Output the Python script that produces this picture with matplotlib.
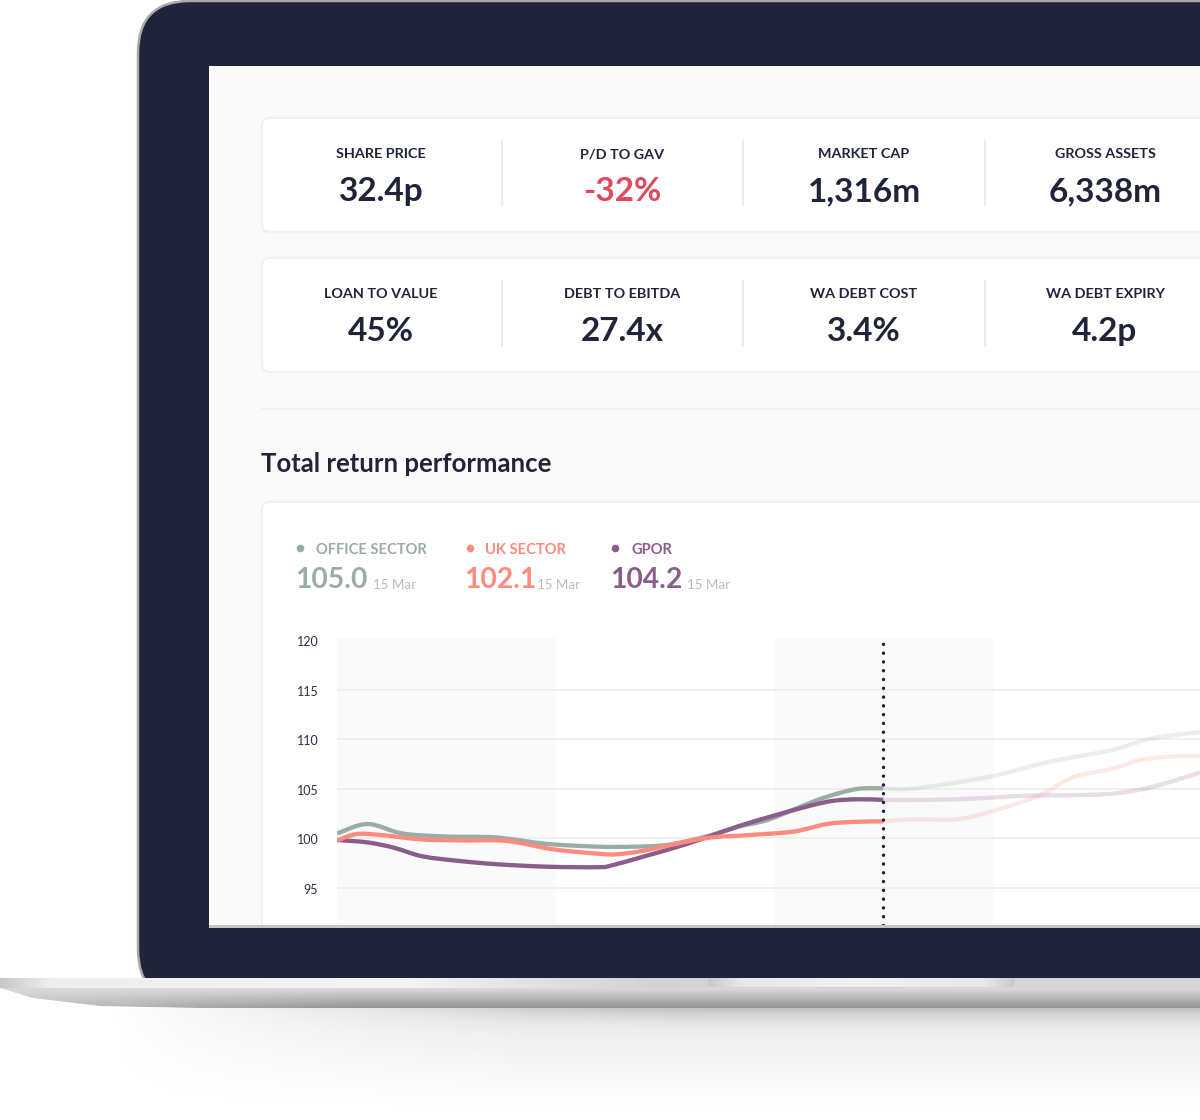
import numpy as np
import matplotlib
matplotlib.use("Agg")
import matplotlib.pyplot as plt
from matplotlib.patches import FancyBboxPatch, PathPatch, Polygon, Rectangle
from matplotlib.path import Path
from matplotlib.transforms import ScaledTranslation

plt.rcParams["font.family"] = ["Lato", "DejaVu Sans"]

# kpi cards
row1_labels = ["SHARE PRICE", "P/D TO GAV", "MARKET CAP", "GROSS ASSETS"]
row1_values = ["32.4p", "-32%", "1,316m", "6,338m"]
row2_labels = ["LOAN TO VALUE", "DEBT TO EBITDA", "WA DEBT COST", "WA DEBT EXPIRY"]
row2_values = ["45%", "27.4x", "3.4%", "4.2p"]

# legend
legend_names = ["OFFICE SECTOR", "UK SECTOR", "GPOR"]
legend_values = ["105.0", "102.1", "104.2"]
legend_date = "15 Mar"

# series, x is in band widths from the start of the chart
office_x = [0, .14, .30, .50, .73, .96, 1.20, 1.35, 1.51, 1.69, 1.84, 1.97, 2.12, 2.24, 2.38, 2.50]
office_y = [100.5, 101.46, 100.5, 100.2, 100.1, 99.45, 99.17, 99.17, 99.35, 100.2, 101.2, 101.87, 103.2, 104.2, 105.0, 105.07]
office_fx = [2.50, 2.61, 2.79, 3.02, 3.25, 3.54, 3.73, 3.95]
office_fy = [105.07, 105.0, 105.5, 106.4, 107.7, 108.9, 110.1, 110.75]

uk_x = [0, .09, .20, .39, .58, .78, .99, 1.20, 1.28, 1.40, 1.56, 1.71, 1.89, 2.09, 2.24, 2.36, 2.50]
uk_y = [99.8, 100.45, 100.35, 99.9, 99.8, 99.75, 98.9, 98.45, 98.4, 98.75, 99.5, 100.1, 100.35, 100.7, 101.45, 101.67, 101.73]
uk_fx = [2.50, 2.64, 2.84, 3.02, 3.22, 3.37, 3.54, 3.67, 3.80, 3.95]
uk_fy = [101.73, 101.94, 101.94, 102.9, 104.4, 106.2, 107.0, 107.9, 108.26, 108.36]

gpor_x = [0, .14, .26, .39, .55, .73, .96, 1.20, 1.26, 1.40, 1.56, 1.69, 1.84, 2.01, 2.16, 2.27, 2.38, 2.50]
gpor_y = [99.85, 99.6, 99.07, 98.2, 97.75, 97.4, 97.15, 97.1, 97.3, 98.15, 99.17, 100.1, 101.26, 102.37, 103.28, 103.8, 103.96, 103.9]
gpor_fx = [2.50, 2.71, 2.94, 3.13, 3.43, 3.58, 3.73, 3.95]
gpor_fy = [103.9, 103.9, 104.06, 104.3, 104.4, 104.6, 105.2, 106.65]

y_ticks = [95, 100, 105, 110, 115, 120]

NAVY = "#1f2438"
GREY = "#9aaca8"
CORAL = "#ff8a7e"
PURPLE = "#8a5d8b"

W, H = 1200, 1120
fig = plt.figure(figsize=(W / 100, H / 100), dpi=100, facecolor="white")
ax = fig.add_axes([0, 0, 1, 1])
ax.axis("off")


def gradient(arr, x0, x1, y0, y1, clip=None, z=1):
    im = ax.imshow(arr, extent=[x0, x1, y1, y0], cmap="gray", vmin=0, vmax=255,
                   aspect="auto", zorder=z, interpolation="bilinear")
    if clip is not None:
        im.set_clip_path(clip)
    return im


def curve(x, y):
    # bezier segments through the read points
    x, y = np.asarray(x, float), np.asarray(y, float)
    pts = np.column_stack([x, y])
    verts = [pts[0]]
    codes = [Path.MOVETO]
    for i in range(len(pts) - 1):
        before = pts[max(i - 1, 0)]
        after = pts[min(i + 2, len(pts) - 1)]
        verts += [pts[i] + (pts[i + 1] - before) / 6, pts[i + 1] - (after - pts[i]) / 6, pts[i + 1]]
        codes += [Path.CURVE4] * 3
    return Path(verts, codes)


# soft shadow under the laptop
xx, yy = np.meshgrid(np.arange(0, 1200, 4), np.arange(1008, 1120, 2))
fx = np.clip((xx - 110) / 420, 0, 1) ** 0.7
fy = 1 - (yy - 1008) / 112
shade = 255 - fx * (24 * fy ** 1.4 + 36 * np.clip(1 - (yy - 1008) / 26, 0, 1) ** 2 * np.clip((xx - 200) / 500, 0, 1))
gradient(shade, 0, 1200, 1008, 1120)

# lid and screen
ax.add_patch(FancyBboxPatch((138, 1), 1200, 1000, boxstyle="round,pad=0,rounding_size=52",
                            fc=NAVY, ec="#a9a9a9", lw=1.8, zorder=2))
ax.add_patch(Rectangle((209, 66), 1100, 859, fc="#fafafa", ec="none", zorder=3))

# base of the laptop
ax.add_patch(Rectangle((0, 978), 1200, 30, fc="white", ec="none", zorder=3.1))
base = Polygon([(0, 988), (33, 998), (100, 1006), (200, 1008), (1300, 1008), (1300, 988)],
               closed=True, fc="none", ec="none")
ax.add_patch(base)
xx, yy = np.meshgrid(np.arange(0, 1200, 4), np.arange(988, 1009))
f = np.clip(xx / 350, 0, 1)
gradient(218 - (yy - 988) / 20 * (22 + 48 * f), 0, 1200, 988, 1008, clip=base, z=3.2)
top_strip = np.interp(np.arange(0, 1200, 4), [0, 50, 400, 650, 1200], [200, 238, 243, 210, 214])
gradient(top_strip[None, :], 0, 1200, 978, 988, z=3.2)

notch = FancyBboxPatch((708, 968), 307, 19, boxstyle="round,pad=0,rounding_size=6", fc="none", ec="none")
ax.add_patch(notch)
notch_row = np.interp(np.arange(708, 1015), [708, 740, 860, 985, 1015], [200, 232, 240, 232, 200])
gradient(notch_row[None, :], 708, 1015, 978, 987, clip=notch, z=3.3)

# kpi rows
centres = [381, 622, 864, 1105]
dividers = [501.5, 743, 984.5]
for top, labels, values in [(118, row1_labels, row1_values), (258, row2_labels, row2_values)]:
    ax.add_patch(FancyBboxPatch((262, top), 1100, 114, boxstyle="round,pad=0,rounding_size=8",
                                fc="white", ec="#f1f1f1", lw=1.5, zorder=6))
    for d in dividers:
        ax.plot([d, d], [top + 23, top + 88], color="#e9e9e9", lw=1.2, zorder=7)
    for c, lab, val in zip(centres, labels, values):
        ax.text(c, top + 36.5, lab, ha="center", va="center", fontsize=10.4, fontweight="bold",
                color=NAVY, zorder=8)
        ax.text(c, top + 73.5, val, ha="center", va="center", fontsize=24, fontweight="bold",
                color="#e2485f" if val.startswith("-") else NAVY, zorder=8)

ax.plot([262, 1200], [409, 409], color="#f0f0f0", lw=1.2, zorder=6)
ax.text(261, 464.5, "Total return performance", ha="left", va="center", fontsize=18.5,
        fontweight="bold", color=NAVY, zorder=8)

# chart card, its lower end sits behind the bezel
ax.add_patch(FancyBboxPatch((262, 502), 1100, 440, boxstyle="round,pad=0,rounding_size=8",
                            fc="white", ec="#f1f1f1", lw=1.5, zorder=6))
ax.add_patch(Rectangle((209, 927.5), 1100, 50.5, fc=NAVY, ec="none", zorder=7))
ax.add_patch(Rectangle((209, 925), 1100, 2.5, fc="#c4c5c8", ec="none", zorder=7))

# legend
dot_x = [300, 470, 615]
name_x = [316, 485, 631]
val_x = [295, 464, 610]
date_x = [373, 537, 687]
colors = [GREY, CORAL, PURPLE]
for i in range(3):
    ax.plot([dot_x[i]], [548], "o", ms=5.5, color=colors[i], mec="none", zorder=8)
    ax.text(name_x[i], 549.5, legend_names[i], ha="left", va="center", fontsize=10.6,
            fontweight="bold", color=colors[i], zorder=8)
    ax.text(val_x[i], 580.5, legend_values[i], ha="left", va="center", fontsize=20.3,
            fontweight="bold", color=colors[i], zorder=8)
    ax.text(date_x[i], 585, legend_date, ha="left", va="center", fontsize=9.6,
            color="#bcbcbc", zorder=8)

ax.set_xlim(0, W)
ax.set_ylim(H, 0)

# line chart, one band is 218.5 px and 5 index points are 49.5 px
cx = fig.add_axes([337 / W, (H - 925) / H, (W - 337) / W, (925 - 638) / H], zorder=5)
cx.patch.set_alpha(0)
for s in cx.spines.values():
    s.set_visible(False)
cx.set_xlim(0, (W - 337) / 218.5)
cx.set_ylim(91.26, 120.25)
cx.set_xticks([])
cx.set_yticks(y_ticks)
cx.tick_params(axis="y", length=0, pad=13.5, labelsize=9, labelcolor="#2c3046")
down = ScaledTranslation(0, -1 / 100, fig.dpi_scale_trans)
for lab in cx.get_yticklabels():
    lab.set_transform(lab.get_transform() + down)
for b in [0, 2]:
    cx.axvspan(b, b + 1, color="#fafafa", lw=0, zorder=1)
for t in y_ticks[:-1]:
    cx.axhline(t, color="#eeeee7", lw=1.1, zorder=2)

for (x, y, fx_, fy_, c) in [(office_x, office_y, office_fx, office_fy, GREY),
                            (gpor_x, gpor_y, gpor_fx, gpor_fy, PURPLE),
                            (uk_x, uk_y, uk_fx, uk_fy, CORAL)]:
    cx.add_patch(PathPatch(curve(fx_, fy_), fc="none", ec=c, alpha=0.2, lw=3.1, zorder=3))
    cx.add_patch(PathPatch(curve(x, y), fc="none", ec=c, lw=3.1, capstyle="butt", zorder=4))

cx.axvline(2.5, color=NAVY, lw=2.5, linestyle=(0, (0.01, 2.52)), dash_capstyle="round", zorder=5)

fig.savefig("out.png", dpi=100)
